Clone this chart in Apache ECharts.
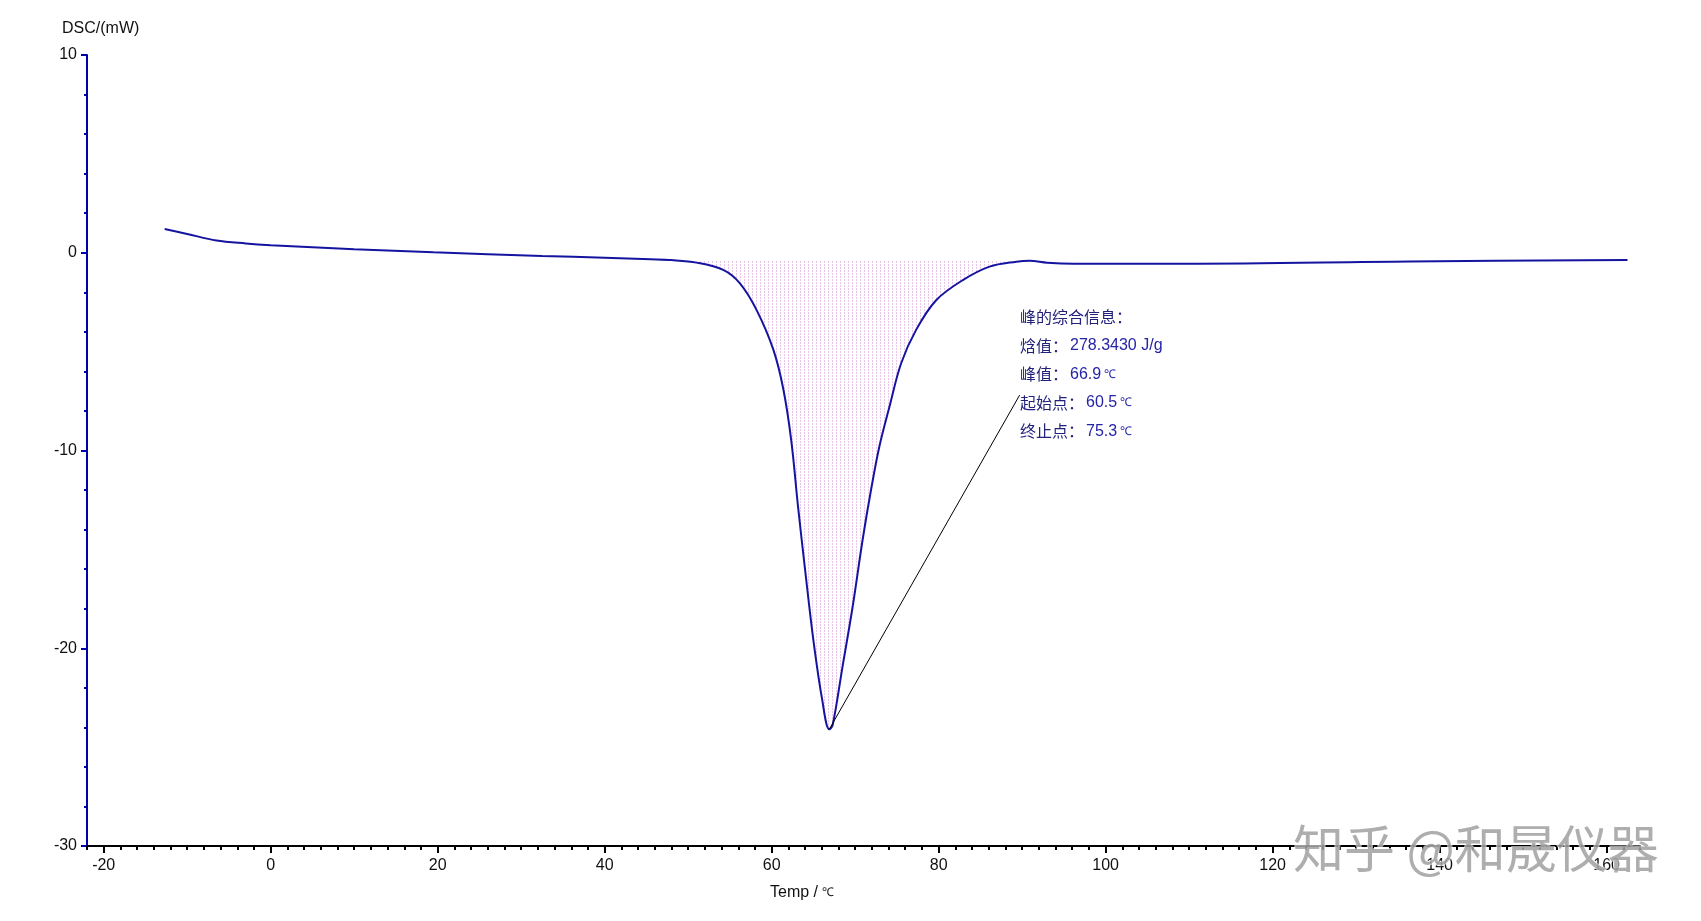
<!DOCTYPE html>
<html>
<head>
<meta charset="utf-8">
<title>DSC</title>
<script src="https://cdn.jsdelivr.net/npm/echarts@6.0.0/dist/echarts.min.js"></script>
<style>
  html, body { margin: 0; padding: 0; background: #fff; }
  #chart { width: 1701px; height: 921px; }
</style>
</head>
<body>
<div id="chart"></div>
<script>
// 温度 / DSC 读数
var temps = [-12.7, -10, -6.5, -3, 0, 5, 10, 19.5, 32.5, 40, 45.5, 48, 51, 54.2, 56.2, 58.2, 60.2, 61.4, 62.35, 63.15, 64.05, 65.0, 66.05, 66.9,
  67.3, 68.5, 69.7, 70.9, 71.9, 72.9, 74.1, 75.5, 77.3, 79.7, 82.9, 86.1, 89.3, 90.9, 93, 96.2, 109.5, 136.4, 162.5]
var dsc = [1.2, 0.95, 0.62, 0.47, 0.38, 0.28, 0.18, 0.02, -0.16, -0.25, -0.33, -0.37, -0.5, -0.87, -1.55, -2.9, -4.9, -6.9, -9.5, -12.8, -16.2, -19.6, -22.6, -24.1,
  -23.9, -20.9, -17.9, -14.5, -12.0, -9.8, -7.8, -5.6, -3.9, -2.4, -1.38, -0.7, -0.45, -0.4, -0.5, -0.55, -0.55, -0.44, -0.37]

// 积分区间和基线
var fillFrom = 46.6
var fillTo = 89.5
var fillBase = -0.42

var xLabels = [-20, 0, 20, 40, 60, 80, 100, 120, 140, 160]
var peakInfo = [
  ['峰的综合信息：', '', ''],
  ['焓值：', '278.3430 J/g', ''],
  ['峰值：', '66.9', '℃'],
  ['起始点：', '60.5', '℃'],
  ['终止点：', '75.3', '℃']
]
var leader = [[66.9, -24.1], [89.7, -7.2]]

var curve = temps.map(function (t, i) { return [t, dsc[i]] })
var peakPart = curve.filter(function (p) { return p[0] >= fillFrom && p[0] <= fillTo })

// 粉色虚线填充
var pat = document.createElement('canvas')
pat.width = 4
pat.height = 3
var pc = pat.getContext('2d')
pc.fillStyle = '#ebc6eb'
pc.fillRect(0, 0, 1, 2)

var font = '"Liberation Sans", Arial, sans-serif'
var cjk = '"Noto Sans CJK SC", sans-serif'

var myChart = echarts.init(document.getElementById('chart'))

var infoTexts = peakInfo.map(function (row, i) {
  return {
    type: 'text',
    left: 1020,
    top: 309 + i * 28.6,
    style: {
      text: '{a|' + row[0] + '}' + (row[1] ? '{b|' + row[1] + '}' : '') + (row[2] ? '{c| ' + row[2] + '}' : ''),
      rich: {
        a: { fontFamily: cjk, fontSize: 16, fill: '#22227a' },
        b: { fontFamily: font, fontSize: 16, fill: '#2424a8', padding: [0, 0, 0, 2] },
        c: { fontFamily: font, fontSize: 12, fill: '#2424a8' }
      }
    }
  }
})

var option = {
  animation: false,
  backgroundColor: '#fff',
  grid: { left: 87, top: 55, right: 61, bottom: 75, containLabel: false },
  xAxis: [
    {
      type: 'value',
      min: -22,
      max: 164,
      splitLine: { show: false },
      axisLine: { onZero: false, lineStyle: { color: '#000', width: 2 } },
      axisTick: { customValues: xLabels, length: 7, lineStyle: { color: '#000', width: 2 } },
      axisLabel: { customValues: xLabels, margin: 12, fontSize: 16, color: '#111', fontFamily: font }
    },
    {
      // 次刻度
      type: 'value',
      min: -22,
      max: 164,
      interval: 2,
      position: 'bottom',
      splitLine: { show: false },
      axisLine: { show: false, onZero: false },
      axisTick: { length: 4, lineStyle: { color: '#000', width: 2 } },
      axisLabel: { show: false }
    }
  ],
  yAxis: {
    type: 'value',
    min: -30,
    max: 10,
    interval: 10,
    splitLine: { show: false },
    axisLine: { onZero: false, lineStyle: { color: '#0000aa', width: 2 } },
    axisTick: { length: 6, lineStyle: { color: '#0000aa', width: 2 } },
    minorTick: { show: true, splitNumber: 5, length: 3, lineStyle: { color: '#0000aa', width: 2 } },
    axisLabel: { margin: 10, fontSize: 16, color: '#111', fontFamily: font }
  },
  series: [
    {
      type: 'line',
      data: peakPart,
      showSymbol: false,
      smooth: 0.35,
      lineStyle: { width: 0 },
      areaStyle: { origin: fillBase, color: { image: pat, repeat: 'repeat' }, opacity: 1 },
      z: 1
    },
    {
      type: 'line',
      data: curve,
      showSymbol: false,
      smooth: 0.35,
      lineStyle: { color: '#1414a0', width: 2 },
      z: 3
    },
    {
      type: 'line',
      data: leader,
      showSymbol: false,
      lineStyle: { color: '#000', width: 1 },
      z: 4
    }
  ],
  graphic: [
    {
      type: 'text', left: 62, top: 21,
      style: { text: 'DSC/(mW)', fontFamily: font, fontSize: 16, fill: '#111' }
    },
    {
      type: 'text', left: 770, top: 885,
      style: {
        text: '{a|Temp / }{b|℃}',
        rich: {
          a: { fontFamily: font, fontSize: 16, fill: '#111' },
          b: { fontFamily: font, fontSize: 12, fill: '#111' }
        }
      }
    },
    {
      type: 'text', left: 1292, top: 822, z: 100,
      style: { text: '知乎 @和晟仪器', fontFamily: cjk, fontSize: 51, fill: 'rgba(160,160,160,0.85)', stroke: 'rgba(255,255,255,0.6)', lineWidth: 2 }
    }
  ].concat(infoTexts)
}

myChart.setOption(option)
</script>
</body>
</html>
